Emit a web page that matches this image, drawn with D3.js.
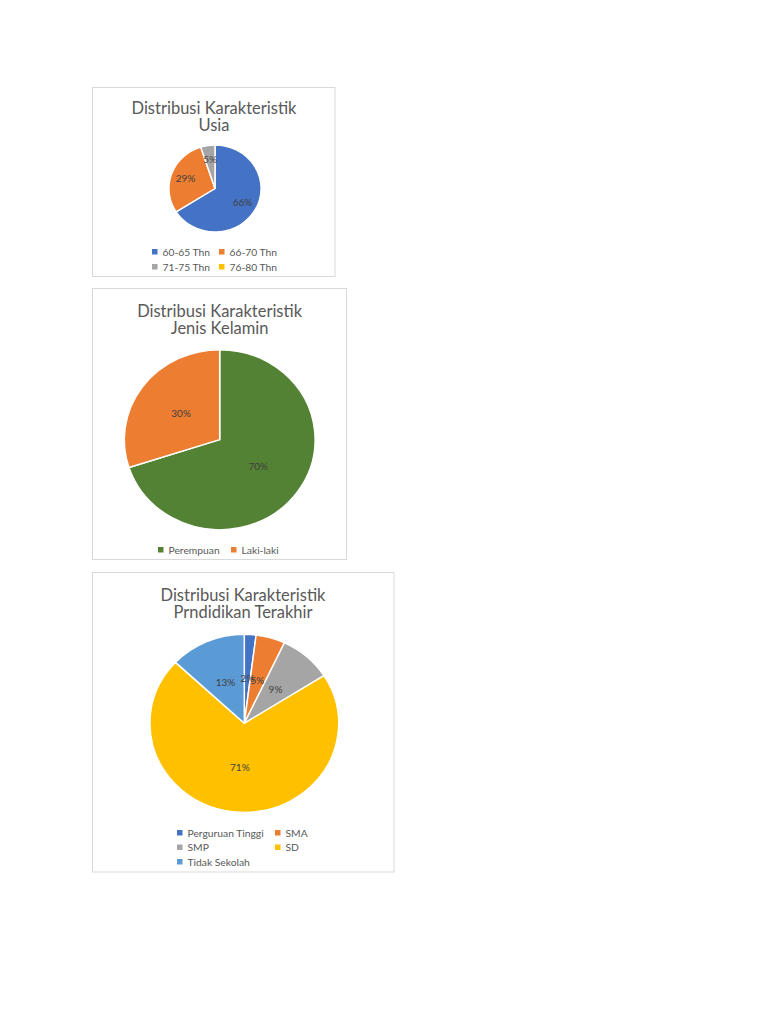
<!DOCTYPE html>
<html><head><meta charset="utf-8">
<script src="https://cdn.jsdelivr.net/npm/d3@7"></script>
<style>body{margin:0;background:#fff;} svg{display:block;}</style>
</head><body>
<svg id="c" width="768" height="1024"></svg>
<script>
// ---- data ----
const usiaCategories = ["60-65 Thn", "66-70 Thn", "71-75 Thn", "76-80 Thn"];
const usiaValues = [66, 29, 5, 0];
const usiaColors = ["#4472C4", "#ED7D31", "#A5A5A5", "#FFC000"];

const jkCategories = ["Perempuan", "Laki-laki"];
const jkValues = [70, 30];
const jkColors = ["#548235", "#ED7D31"];

const pendCategories = ["Perguruan Tinggi", "SMA", "SMP", "SD", "Tidak Sekolah"];
const pendValues = [2, 5, 9, 71, 13];
const pendColors = ["#4472C4", "#ED7D31", "#A5A5A5", "#FFC000", "#5B9BD5"];

const titles = [
  ["Distribusi Karakteristik", "Usia"],
  ["Distribusi Karakteristik", "Jenis Kelamin"],
  ["Distribusi Karakteristik", "Prndidikan Terakhir"]
];

// ---- layout ----
const charts = [
  {cats: usiaCategories, vals: usiaValues, cols: usiaColors, title: titles[0],
   box: [92.5, 87.5, 335, 276.5], cx: 215, cy: 188.5, r: 43.5, lr: 0.68,
   t1: 113.5, t2: 131, tx: 214, legend: {x: [155, 222], y0: 252, dy: 15, cols: 2}},
  {cats: jkCategories, vals: jkValues, cols: jkColors, title: titles[1],
   box: [92.5, 288.5, 346.5, 559.5], cx: 219.7, cy: 439.7, r: 90, lr: 0.5,
   t1: 317.3, t2: 333.5, tx: 219.6, legend: {x: [161, 234], y0: 550, dy: 15, cols: 2}},
  {cats: pendCategories, vals: pendValues, cols: pendColors, title: titles[2],
   box: [92.5, 572.5, 394, 872], cx: 244.3, cy: 723.3, r: 89, lr: 0.5,
   t1: 601.3, t2: 618, tx: 243, legend: {x: [180, 278], y0: 833, dy: 14.5, cols: 2}}
];
const sx = 1.06; // horizontal stretch of the reference rendering

const svg = d3.select("#c");
const font = "Lato, 'Open Sans', sans-serif";

charts.forEach(ch => {
  const [x0, y0, x1, y1] = ch.box;
  svg.append("rect").attr("x", x0).attr("y", y0).attr("width", x1 - x0).attr("height", y1 - y0)
    .attr("fill", "#fff").attr("stroke", "#D9D9D9").attr("stroke-width", 1);

  const tt = svg.append("text").attr("text-anchor", "middle")
    .attr("font-family", font).attr("font-size", 16.5).attr("fill", "#595959");
  tt.append("tspan").attr("x", ch.tx).attr("y", ch.t1).text(ch.title[0]);
  tt.append("tspan").attr("x", ch.tx).attr("y", ch.t2).text(ch.title[1]);

  const data = ch.cats.map((c, i) => ({cat: c, v: ch.vals[i], col: ch.cols[i]}));
  const pie = d3.pie().value(d => d.v).sort(null);
  const arcs = pie(data);
  const arc = d3.arc().innerRadius(0).outerRadius(ch.r);

  const g = svg.append("g").attr("transform", `translate(${ch.cx},${ch.cy}) scale(${sx},1)`);
  g.selectAll("path").data(arcs.filter(a => a.data.v > 0)).join("path")
    .attr("d", arc).attr("fill", d => d.data.col)
    .attr("stroke", "#fff").attr("stroke-width", 1.4).attr("stroke-linejoin", "round");

  const labelArc = d3.arc().innerRadius(ch.r * ch.lr).outerRadius(ch.r * ch.lr);
  arcs.filter(a => a.data.v > 0).forEach(a => {
    const [lx, ly] = labelArc.centroid(a);
    svg.append("text").attr("x", ch.cx + lx * sx).attr("y", ch.cy + ly + 3.5)
      .attr("text-anchor", "middle").attr("font-family", font).attr("font-size", 10)
      .attr("fill", "#404040").text(a.data.v + "%");
  });

  data.forEach((d, i) => {
    const col = i % ch.legend.cols, row = Math.floor(i / ch.legend.cols);
    const lx = ch.legend.x[col], ly = ch.legend.y0 + row * ch.legend.dy;
    svg.append("rect").attr("x", lx - 3).attr("y", ly - 3).attr("width", 5.5).attr("height", 5.5).attr("fill", d.col);
    svg.append("text").attr("x", lx + 7.5).attr("y", ly + 3.5).attr("font-family", font)
      .attr("font-size", 10.3).attr("fill", "#595959").text(d.cat);
  });
});
</script>
</body></html>
